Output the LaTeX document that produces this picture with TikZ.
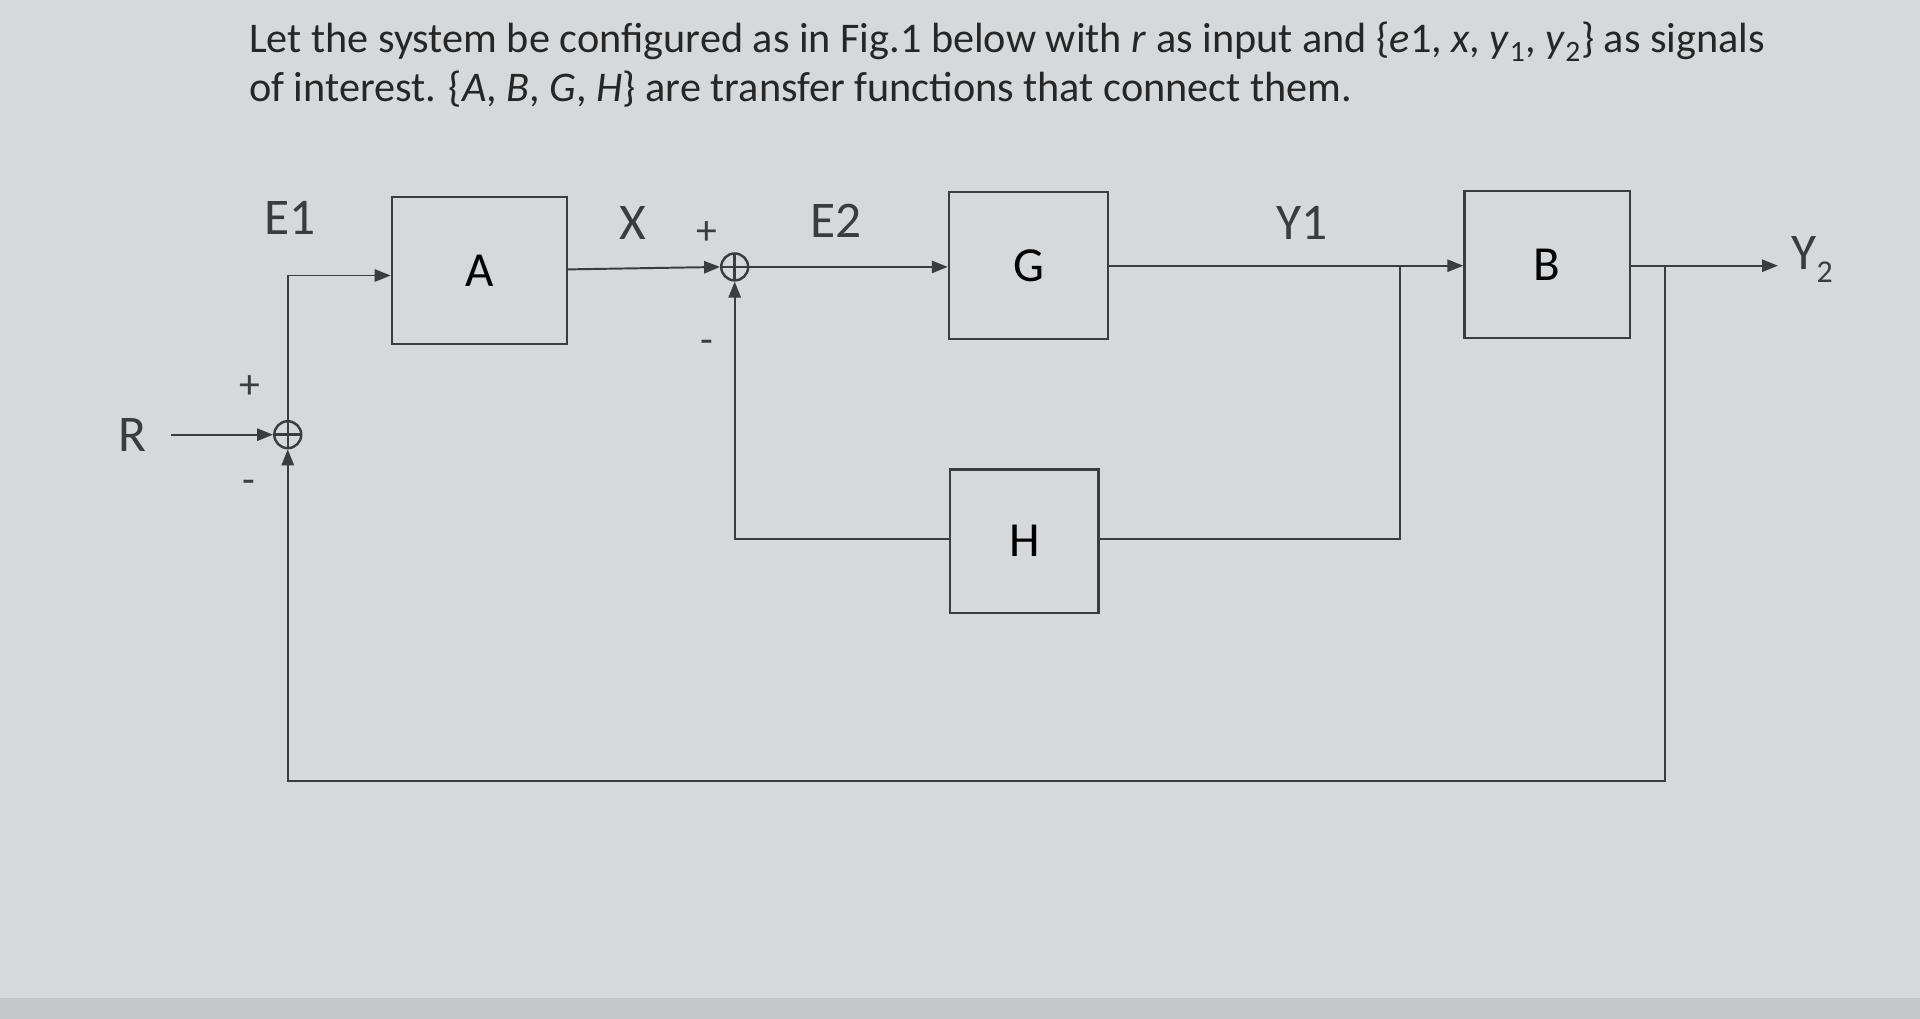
\documentclass[tikz,border=0pt]{standalone}
\usepackage{fontspec}
\setmainfont{Carlito}
\usetikzlibrary{arrows.meta}
\definecolor{bg}{HTML}{D6D8DA}
\definecolor{ln}{HTML}{3A3C40}
\begin{document}
\begin{tikzpicture}[x=1pt,y=-1pt,
  blk/.style={draw=ln,line width=2pt,minimum width=#1,minimum height=120pt,inner sep=0pt,font=\fontsize{40}{44}\selectfont},
  sumj/.style={draw=ln,circle,line width=2pt,minimum size=22pt,inner sep=0pt,path picture={\draw[ln,line width=2pt] (path picture bounding box.north)--(path picture bounding box.south) (path picture bounding box.west)--(path picture bounding box.east);}},
  wire/.style={ln,line width=1.6pt},
  arr/.style={wire,-{Triangle[length=13pt,width=10pt]}},
  lab/.style={font=\fontsize{42}{46}\selectfont,text=ln},
  sgn/.style={font=\fontsize{34}{38}\selectfont,text=ln},
  txt/.style={font=\fontsize{34.5}{40}\selectfont,text=black!85,anchor=west}]
\useasboundingbox (0,0) rectangle (1568,832);
\fill[bg] (0,0) rectangle (1568,832);
\fill[bg!92!black] (0,815) rectangle (1568,832);
\node[txt] (t1) at (200,34) {Let the system be configured as in Fig.1 below with \textit{r} as input and \{\textit{e}1, \textit{x}, \textit{y}\textsubscript{1}, \textit{y}\textsubscript{2}\} as signals};
\node[txt] (t2) at (200,73) {of interest. \{\textit{A}, \textit{B}, \textit{G}, \textit{H}\} are transfer functions that connect them.};
\node[blk=143pt] (A) at (391.5,221) {A};
\node[blk=130pt] (G) at (840,217) {G};
\node[blk=135pt] (B) at (1263.5,216) {B};
\node[blk=121pt,minimum height=117pt] (H) at (836.5,442) {H};
\node[sumj] (s1) at (235,355) {};
\node[sumj] (s2) at (600,218) {};
\node[lab] (R) at (108,355) {R};
\coordinate (r0) at (140,355);
\node[lab] (E1) at (237,178) {E1};
\node[lab] (X) at (517,182) {X};
\node[lab] (E2) at (683,180) {E2};
\node[lab] (Y1) at (1063,182) {Y1};
\node[lab] (Y2) at (1480,212) {Y\raisebox{-10pt}{\fontsize{26}{28}\selectfont 2}};
\node[sgn] (p1) at (204,316) {+};
\node[sgn] (m1) at (203,398) {-};
\node[sgn] (p2) at (577,190) {+};
\node[sgn] (m2) at (577,283) {-};
\coordinate (y2e) at (1452,217);
\coordinate (k1) at (1143,217);
\coordinate (k2) at (1360,217);
\draw[arr] (r0) -- (s1.west);
\draw[arr] (s1.north) |- (A.west|-0,225);
\draw[arr] (A.east|-0,220) -- (s2.west);
\draw[arr] (s2.east) -- (G.west|-0,218);
\draw[arr] (G.east|-0,217) -- (B.west|-0,217);
\draw[arr] (B.east|-0,217) -- (y2e);
\draw[wire] (k1) |- (H.east|-0,440);
\draw[arr] (H.west|-0,440) -| (s2.south);
\draw[arr] (k2) |- (s1.south|-0,638) -- (s1.south);
\end{tikzpicture}
\end{document}
